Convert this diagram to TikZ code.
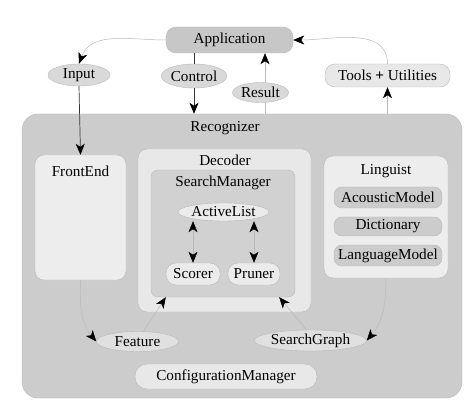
\documentclass[tikz,border=0pt]{standalone}
\usepackage{fontspec}
\setmainfont{Liberation Serif}
\newfontfamily\diagfont{Liberation Serif}
\usepackage{xcolor}
\usepackage{tikz}
\usetikzlibrary{positioning}
\usetikzlibrary{arrows.meta}
\usetikzlibrary{shapes.geometric}

\tikzset{
  part/.style={rectangle, rounded corners=9pt, draw=gray!55, line width=0.4pt, inner sep=0pt},
  pill/.style={rectangle, rounded corners=8pt, draw=gray!55, line width=0.4pt, inner sep=0pt},
  oval/.style={ellipse, draw=gray!55, line width=0.4pt, inner sep=0pt},
  conn/.style={draw=gray!55, line width=0.5pt, -{Stealth[black, length=11pt, width=9pt, inset=3pt]}},
  conn2/.style={draw=gray!55, line width=0.5pt, {Stealth[black, length=11pt, width=9pt, inset=3pt]}-{Stealth[black, length=11pt, width=9pt, inset=3pt]}},
  darkconn/.style={draw=black!80, line width=0.7pt, -{Stealth[black, length=11pt, width=9pt, inset=3pt]}}
}

\begin{document}
\begin{tikzpicture}[x=1pt, y=-1pt, font=\diagfont\fontsize{15.2}{17}\selectfont]
            \useasboundingbox (0,0) rectangle (474,414);

            % Containers
            \node[part, fill=black!20, rounded corners=16pt, minimum width=440pt, minimum height=284pt] (recognizer) at (242,256) {};
            \node (recognizertitle) at (225,128) {Recognizer};
            \node[part, fill=black!7, minimum width=91pt, minimum height=125pt] (frontend) at (80.5,217.5) {};
            \node (frontendtitle) at (80.5,171) {FrontEnd};
            \node[part, fill=black!9, minimum width=173pt, minimum height=163pt] (decoder) at (224.5,230.5) {};
            \node (decodertitle) at (225,160) {Decoder};
            \node[part, fill=black!18, rounded corners=7pt, minimum width=144pt, minimum height=127pt] (smgr) at (223,233.5) {};
            \node (smgrtitle) at (223,183) {SearchManager};
            \node[part, fill=black!7, minimum width=124pt, minimum height=122pt] (linguist) at (386,217) {};
            \node (linguisttitle) at (386,171) {Linguist};

            % Nodes above the recognizer
            \node[pill, fill=black!22, rounded corners=10pt, minimum width=127pt, minimum height=26pt] (app) at (229.5,40) {Application};
            \node[oval, fill=black!15, minimum width=62pt, minimum height=22pt] (input) at (79,75) {Input};
            \node[oval, fill=black!15, minimum width=62pt, minimum height=24pt] (control) at (194,76) {Control};
            \node[oval, fill=black!15, minimum width=56pt, minimum height=20pt] (result) at (260.5,92.5) {Result};
            \node[pill, fill=black!9, rounded corners=10pt, minimum width=125pt, minimum height=23pt] (tools) at (387.5,75.5) {Tools {\bfseries +} Utilities};

            % Nodes inside the recognizer
            \node[oval, fill=black!8, minimum width=91pt, minimum height=18pt] (active) at (223.5,212) {ActiveList};
            \node[pill, fill=black!8, rounded corners=10pt, minimum width=54pt, minimum height=22pt] (scorer) at (193,274) {Scorer};
            \node[pill, fill=black!8, rounded corners=10pt, minimum width=52pt, minimum height=22pt] (pruner) at (254,274) {Pruner};
            \node[pill, fill=black!20, minimum width=108pt, minimum height=21pt] (acoustic) at (388,197.5) {AcousticModel};
            \node[pill, fill=black!20, minimum width=108pt, minimum height=19pt] (dictionary) at (388,226.5) {Dictionary};
            \node[pill, fill=black!20, minimum width=108pt, minimum height=21pt] (language) at (388,255.5) {LanguageModel};
            \node[oval, fill=black!12, minimum width=82pt, minimum height=20pt] (feature) at (137.5,341.5) {Feature};
            \node[oval, fill=black!12, minimum width=106pt, minimum height=21pt] (searchgraph) at (310.5,340.5) {SearchGraph};
            \node[pill, fill=black!9, rounded corners=12pt, minimum width=182pt, minimum height=25pt] (config) at (226,376.5) {ConfigurationManager};

            % Arrows
            \draw[conn] (app.west) to[out=180, in=70] (input.north);
            \draw[conn] (tools.north) to[out=90, in=0] (app.east);
            \draw[draw=black!80, line width=0.6pt] (app.south -| control) -- (control.north);
            \draw[darkconn] (control.south) -- (control |- recognizer.north);
            \draw[conn] ([xshift=4.5pt]result.north) -- ([xshift=4.5pt]result.north |- app.south);
            \draw[draw=gray!55, line width=0.5pt] ([xshift=4.5pt]result.south) -- ([xshift=4.5pt]result.south |- recognizer.north);
            \draw[conn] (recognizer.north -| tools) -- (tools.south);
            \draw[darkconn] (input.south) -- (frontend.north);
            \draw[conn2] (active.south -| scorer) -- (scorer.north);
            \draw[conn2] (active.south -| pruner) -- (pruner.north);
            \draw[conn] (frontend.south) to[out=-92, in=130] (feature.west);
            \draw[conn] (feature.60) -- ([xshift=15pt]smgr.south west);
            \draw[conn] (searchgraph.110) -- ([xshift=-16pt]smgr.south east);
            \draw[conn] (linguist.south) to[out=-90, in=50] (searchgraph.east);
        \end{tikzpicture}
\end{document}
